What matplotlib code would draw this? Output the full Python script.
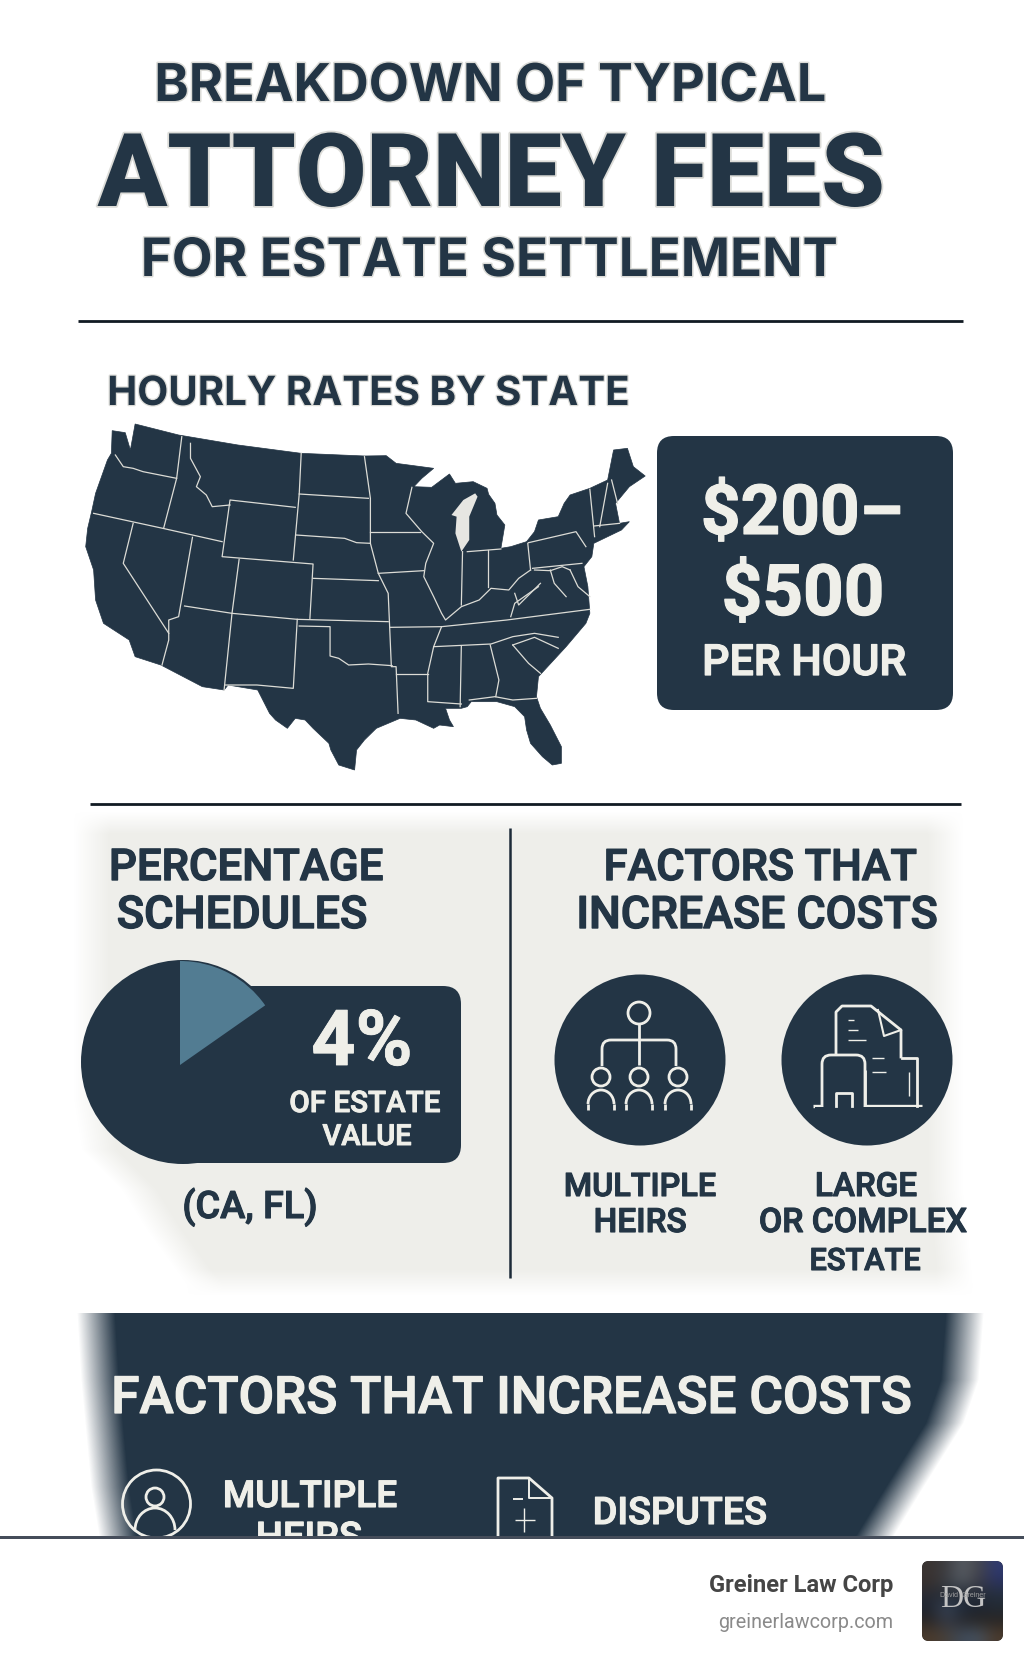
import numpy as np
import matplotlib
matplotlib.use('Agg')
import matplotlib.pyplot as plt
import matplotlib.patheffects as pe
from matplotlib.patches import Polygon, Circle, Wedge, Arc, FancyBboxPatch, Rectangle

NAVY = '#233545'
CREAM = '#efefe9'
PANEL = '#eeeeea'
SLICE = '#527c92'

# outline of the map (crop coordinates)
map_outline_x = [132, 165, 178, 190, 300, 450, 610, 770, 825, 850, 945, 915, 895, 940, 985, 1000, 1045, 1080, 1084,
                 1100, 1105, 1125, 1120, 1115, 1140, 1180, 1200, 1210, 1260, 1275, 1290, 1340, 1385, 1400, 1435, 1450, 1480, 1440, 1405, 1415, 1440, 1420,
                 1350, 1345, 1325, 1335, 1340, 1330, 1280, 1210, 1205, 1215, 1240, 1268, 1268, 1245, 1220, 1190, 1180, 1175, 1150, 1105, 1070, 1040, 1030, 1015,
                 975, 985, 995, 960, 945, 900, 860, 800, 770, 750, 745, 705, 685, 680, 640, 620, 595, 575, 545, 530, 500, 425, 415, 360, 255,
                 190, 175, 110, 90, 85, 65, 70, 80, 90, 120, 130]
map_outline_y = [92, 98, 150, 72, 105, 135, 160, 168, 167, 190, 205, 235, 260, 262, 222, 250, 245, 265, 283,
                 310, 345, 375, 410, 445, 440, 425, 395, 360, 350, 310, 285, 265, 240, 150, 145, 200, 228, 260, 310, 370, 365, 390,
                 430, 470, 500, 560, 640, 670, 740, 830, 890, 925, 975, 1040, 1090, 1095, 1070, 1030, 990, 950, 920, 905, 905, 905, 920, 925,
                 925, 960, 980, 975, 985, 960, 955, 985, 1020, 1050, 1110, 1095, 1050, 1030, 985, 960, 955, 985, 960, 940, 870, 855, 870, 860, 795,
                 770, 720, 670, 600, 510, 440, 385, 335, 280, 180, 160]
lake_x = [1050, 1020, 990, 1003, 1000, 1015, 1035, 1035, 1056]
lake_y = [280, 300, 345, 350, 400, 455, 420, 350, 290]

state_lines = [
    [(140, 165), (160, 200), (185, 205), (210, 215), (295, 235)],
    [(308, 110), (295, 235), (262, 385)],
    [(330, 130), (330, 175), (355, 230), (345, 260), (370, 285), (385, 320), (430, 315)],
    [(85, 340), (260, 385), (410, 425)],
    [(595, 322), (430, 300), (410, 470), (640, 492), (632, 655)],
    [(610, 160), (605, 282), (590, 480)],
    [(605, 282), (780, 295)],
    [(770, 170), (785, 295), (785, 395), (785, 430), (805, 520), (830, 580), (838, 800), (850, 800), (855, 940)],
    [(597, 405), (720, 415), (750, 428), (785, 430)],
    [(785, 397), (910, 397)],
    [(805, 520), (920, 512)],
    [(640, 535), (805, 542)],
    [(315, 618), (435, 640), (600, 658), (830, 665)],
    [(185, 370), (160, 490), (275, 700)],
    [(335, 412), (300, 650), (275, 660), (275, 720), (258, 795)],
    [(453, 478), (435, 640), (415, 870)],
    [(600, 658), (590, 865), (498, 855), (418, 855)],
    [(605, 678), (683, 680), (683, 768), (705, 775), (730, 795), (780, 792), (840, 797)],
    [(850, 822), (930, 822)],
    [(835, 682), (965, 680), (1130, 660), (1340, 628)],
    [(945, 740), (1090, 732), (1145, 710), (1200, 700), (1260, 712)],
    [(965, 680), (945, 740), (930, 820), (930, 905), (1015, 912)],
    [(1015, 738), (1012, 920)],
    [(1088, 735), (1110, 840), (1102, 890)],
    [(1035, 900), (1100, 890), (1145, 900), (1205, 895)],
    [(1145, 735), (1185, 790), (1215, 820)],
    [(1145, 735), (1200, 712), (1260, 745)],
    [(890, 262), (875, 340), (915, 395), (945, 430), (925, 490), (920, 530), (945, 590), (965, 640), (975, 660), (1015, 620), (1060, 600), (1090, 565), (1135, 570), (1160, 535), (1190, 510)],
    [(1018, 455), (1015, 615)],
    [(1082, 450), (1082, 560)],
    [(1030, 455), (1115, 447)],
    [(1183, 430), (1190, 510)],
    [(1185, 428), (1305, 395), (1330, 440)],
    [(1195, 505), (1320, 490)],
    [(1150, 580), (1160, 615), (1215, 550)],
    [(1140, 650), (1150, 610), (1210, 560)],
    [(1340, 268), (1352, 410)],
    [(1385, 250), (1365, 380)],
    [(1395, 240), (1410, 310)],
    [(1350, 378), (1415, 370)],
    [(1290, 510), (1310, 560), (1340, 590)],
    [(1240, 510), (1250, 550), (1280, 590)],
    [(1200, 510), (1240, 512), (1270, 500), (1290, 510)],
]

slice_degrees = 55

# soft edges of the two backgrounds
panel_rows = [823, 1100, 1150, 1190, 1230, 1285]
panel_left = [92, 92, 100, 140, 165, 205]
panel_right = [945, 945, 945, 945, 950, 955]
band_rows = [1313, 1380, 1423, 1487, 1536]
band_left = [96, 100, 104, 110, 118]
band_right = [965, 960, 945, 905, 875]

# colours of the small photo behind the logo, coarse grid
logo_cells = [['#3a3432', '#3c3c40', '#5a6068', '#454548', '#2f3a70'],
              ['#38302e', '#3a3e44', '#545a62', '#3c3c44', '#2a3260'],
              ['#2a2c34', '#262c36', '#262c36', '#262c38', '#26303e'],
              ['#1e2430', '#3a4658', '#1e2a3a', '#1e2430', '#222a34'],
              ['#2a2624', '#343a48', '#2a2a2e', '#2a2826', '#2a2624'],
              ['#4a3a2c', '#46403a', '#3e4a5a', '#46505c', '#4a3a2c']]

fig = plt.figure(figsize=(10.24, 16.66), dpi=100)
ax = fig.add_axes([0, 0, 1, 1])
ax.axis('off')
renderer = fig.canvas.get_renderer()


def map_pts(xs, ys):
    return 60 + np.array(xs) / 2.529, 400 + np.array(ys) / 3.0


def soft_panel(rows, left, right, top, bottom, soft, color, top_soft=1, bottom_soft=1):
    h, w = 1666, 1024
    yy = np.arange(h) + 0.5
    xx = np.arange(w) + 0.5
    le = np.interp(yy, rows, left)[:, None]
    ri = np.interp(yy, rows, right)[:, None]
    a = np.clip((xx[None, :] - le) / soft + 0.5, 0, 1) * np.clip((ri - xx[None, :]) / soft + 0.5, 0, 1)
    a = a * np.clip((yy[:, None] - top) / top_soft + 0.5, 0, 1) * np.clip((bottom - yy[:, None]) / bottom_soft + 0.5, 0, 1)
    img = np.zeros((h, w, 4))
    img[..., :3] = matplotlib.colors.to_rgb(color)
    img[..., 3] = a
    ax.imshow(img, extent=(0, w, h, 0), aspect='auto', interpolation='bilinear', zorder=0)


def label(s, x, base, width, color=NAVY, weight='bold', family='Inter', halo=None, halo_w=2.0, bold=0, z=5):
    # baseline-anchored text, font size fitted to the measured width in the picture
    t = ax.text(x, base, s, color=color, fontsize=30, fontweight=weight, family=family,
                ha='center', va='baseline', zorder=z)
    bb = t.get_window_extent(renderer)
    t.set_fontsize(30 * width / bb.width)
    effects = []
    if halo:
        effects.append(pe.withStroke(linewidth=halo_w, foreground=halo))
    if bold:
        effects.append(pe.withStroke(linewidth=bold, foreground=color))
    if effects:
        t.set_path_effects(effects)
    return t


def rule(x0, x1, y0, y1, color='#111a22', lw=2.0):
    ax.plot([x0, x1], [y0, y1], color=color, lw=lw, solid_capstyle='butt', zorder=3)


def ring(cx, cy, r, lw=2.0, color=CREAM, fill='none', z=6):
    ax.add_patch(Circle((cx, cy), r, fc=fill, ec=color, lw=lw, zorder=z))


soft_panel(panel_rows, panel_left, panel_right, 823, 1282, 36, PANEL, top_soft=22, bottom_soft=26)
soft_panel(band_rows, band_left, band_right, 1313, 1600, 38, NAVY)

# title
label('BREAKDOWN OF TYPICAL', 490, 101, 672, halo='#dcdcd8', halo_w=2.2)
label('ATTORNEY FEES', 491, 206, 786, weight='black', family='Roboto', halo='#dcdcd8', halo_w=2.6)
label('FOR ESTATE SETTLEMENT', 489, 276, 696, halo='#dcdcd8', halo_w=2.2)
rule(78, 963, 321, 321, lw=2.0)

label('HOURLY RATES BY STATE', 368, 405, 522, halo='#dcdcd8', halo_w=1.8)

# map
mx, my = map_pts(map_outline_x, map_outline_y)
ax.add_patch(Polygon(np.column_stack([mx, my]), closed=True, fc=NAVY, ec=NAVY, lw=0.5, zorder=2))
lx, ly = map_pts(lake_x, lake_y)
ax.add_patch(Polygon(np.column_stack([lx, ly]), closed=True, fc='#e6e6e2', ec='none', zorder=3))
for seg in state_lines:
    sx, sy = map_pts([p[0] for p in seg], [p[1] for p in seg])
    ax.plot(sx, sy, color='#dcdcd6', lw=0.9, zorder=3, solid_joinstyle='round')

# rate box
ax.add_patch(FancyBboxPatch((672, 451), 266, 244, boxstyle='round,pad=15,rounding_size=17', fc=NAVY, ec='none', zorder=2))
label('$200–', 802, 534, 203, color=CREAM, family='Roboto', bold=0.8)
label('$500', 803, 615, 163, color=CREAM, family='Roboto', bold=0.8)
label('PER HOUR', 804, 675, 204, color=CREAM, family='Roboto', weight='medium', bold=0.9)

rule(90, 961, 804, 804, lw=2.0)
rule(510, 510, 828, 1278, color='#1c2a38', lw=1.8)

# left column
label('PERCENTAGE', 246, 880, 274, family='Roboto', weight='medium', bold=1.0)
label('SCHEDULES', 242, 928, 250, family='Roboto', weight='medium', bold=1.0)
ax.add_patch(FancyBboxPatch((200, 1004), 243, 141, boxstyle='round,pad=18,rounding_size=18', fc=NAVY, ec='none', zorder=2))
ax.add_patch(Circle((183, 1062), 102, fc=NAVY, ec='none', zorder=2))
ax.add_patch(Wedge((180, 1065), 104, 270, 270 + slice_degrees, fc=SLICE, ec='none', zorder=3))
label('4%', 362, 1065, 101, color=CREAM, family='Roboto', bold=0.6)
label('OF ESTATE', 365, 1112, 151, color=CREAM, family='Roboto', weight='medium', bold=0.7)
label('VALUE', 367, 1145, 89, color=CREAM, family='Roboto', weight='medium', bold=0.7)
label('(CA, FL)', 250, 1218, 135, family='Roboto', weight='medium', bold=0.8)

# right column
label('FACTORS THAT', 760, 880, 313, family='Roboto', weight='medium', bold=1.0)
label('INCREASE COSTS', 757, 928, 361, family='Roboto', weight='medium', bold=1.0)
ax.add_patch(Circle((640, 1060), 85.5, fc=NAVY, ec='none', zorder=2))
ax.add_patch(Circle((867, 1060), 85.5, fc=NAVY, ec='none', zorder=2))

# heirs icon
ring(639, 1013, 11)
rule(639, 639, 1024, 1065, color=CREAM, lw=2.0)
ax.add_patch(FancyBboxPatch((602, 1040), 74, 40, boxstyle='round,pad=0,rounding_size=9', fc='none', ec=CREAM, lw=2.0, zorder=5))
ax.add_patch(Rectangle((596, 1066), 86, 16, fc=NAVY, ec='none', zorder=5.5))
for cx in [601, 639, 678]:
    ring(cx, 1077, 9)
    ax.add_patch(Arc((cx, 1104), 26, 28, theta1=180, theta2=360, ec=CREAM, lw=2.0, zorder=6))
    rule(cx - 13, cx - 13, 1104, 1110, color=CREAM)
    rule(cx + 13, cx + 13, 1104, 1110, color=CREAM)

# estate icon
doc_x = [836, 836, 842, 871, 901, 901]
doc_y = [1053, 1012, 1006, 1006, 1030, 1057]
ax.plot(doc_x, doc_y, color=CREAM, lw=2.0, zorder=6)
ax.plot([878, 884, 901], [1010, 1036, 1030], color=CREAM, lw=1.5, zorder=6)
ax.add_patch(FancyBboxPatch((822, 1055), 43, 60, boxstyle='round,pad=0,rounding_size=9', fc=NAVY, ec=CREAM, lw=2.0, zorder=6))
ax.add_patch(Rectangle((815, 1107), 110, 12, fc=NAVY, ec='none', zorder=6))
rule(865, 865, 1070, 1106, color=CREAM)
ax.plot([902, 917, 917], [1058, 1058, 1106], color=CREAM, lw=2.0, zorder=6)
rule(813, 922, 1106, 1106, color=CREAM, lw=2.4)
ax.plot([836, 836, 852, 852], [1106, 1093, 1093, 1106], color=CREAM, lw=2.0, zorder=6)
for y0, x0, x1 in [(1020, 848, 854), (1030, 848, 858), (1040, 848, 866), (1058, 872, 884), (1072, 872, 886)]:
    rule(x0, x1, y0, y0, color=CREAM, lw=1.0)
rule(849, 849, 1068, 1082, color=CREAM, lw=1.0)
rule(909, 909, 1072, 1096, color=CREAM, lw=1.0)

label('MULTIPLE', 640, 1196, 152, family='Roboto', weight='medium', bold=0.8)
label('HEIRS', 640, 1232, 93, family='Roboto', weight='medium', bold=0.8)
label('LARGE', 866, 1196, 102, family='Roboto', weight='medium', bold=0.8)
label('OR COMPLEX', 863, 1232, 208, family='Roboto', weight='medium', bold=0.8)
label('ESTATE', 865, 1270, 111, family='Roboto', weight='medium', bold=0.8)

# dark band
label('FACTORS THAT INCREASE COSTS', 511, 1413, 800, color=CREAM, family='Roboto', weight='medium', bold=0.9)
ring(156.5, 1504, 34, lw=2.0)
ring(155, 1497, 9, lw=2.0)
ax.add_patch(Arc((155, 1530), 40, 44, theta1=180, theta2=360, ec=CREAM, lw=2.0, zorder=6))
label('MULTIPLE', 310, 1507, 174, color=CREAM, family='Roboto', weight='medium', bold=0.8)
label('HEIRS', 309, 1549, 106, color=CREAM, family='Roboto', weight='medium', bold=0.8, z=5)
ax.plot([498, 498, 529, 552, 552], [1540, 1478, 1478, 1498, 1540], color=CREAM, lw=2.0, zorder=6)
ax.plot([529, 529, 552], [1478, 1498, 1498], color=CREAM, lw=1.4, zorder=6)
rule(513, 523, 1499, 1499, color=CREAM, lw=1.4)
rule(524, 524, 1508, 1532, color=CREAM, lw=1.0)
rule(515, 535, 1520, 1520, color=CREAM, lw=1.0)
label('DISPUTES', 680, 1524, 174, color=CREAM, family='Roboto', weight='medium', bold=0.8)

# footer
ax.add_patch(Rectangle((0, 1538), 1024, 128, fc='white', ec='none', zorder=8))
ax.add_patch(Rectangle((0, 1536), 1024, 3, fc='#454d5a', ec='none', zorder=9))
label('Greiner Law Corp', 801, 1592, 184, color='#454545', family='Roboto', weight='bold', z=10)
label('greinerlawcorp.com', 805.5, 1628, 175, color='#8a8a8a', family='Roboto', weight='normal', z=10)

# logo
logo = FancyBboxPatch((929, 1568), 67, 66, boxstyle='round,pad=7,rounding_size=7', fc='#2c2a2c', ec='none', zorder=10)
ax.add_patch(logo)
logo_rgb = np.array([[matplotlib.colors.to_rgb(c) for c in row] for row in logo_cells])
photo = ax.imshow(logo_rgb, extent=(922, 1003, 1641, 1561), aspect='auto', interpolation='bicubic', zorder=10.5)
photo.set_clip_path(logo)
ax.text(963, 1607, 'DG', color='#c4c4c4', fontsize=23, family='Liberation Serif', ha='center', va='baseline', zorder=11)
ax.text(963, 1597, 'David  Greiner', color='#a0a0a0', fontsize=5, family='Liberation Sans', ha='center', va='baseline', zorder=12)

ax.set_xlim(0, 1024)
ax.set_ylim(1666, 0)
fig.savefig('out.png', dpi=100, facecolor='white')
